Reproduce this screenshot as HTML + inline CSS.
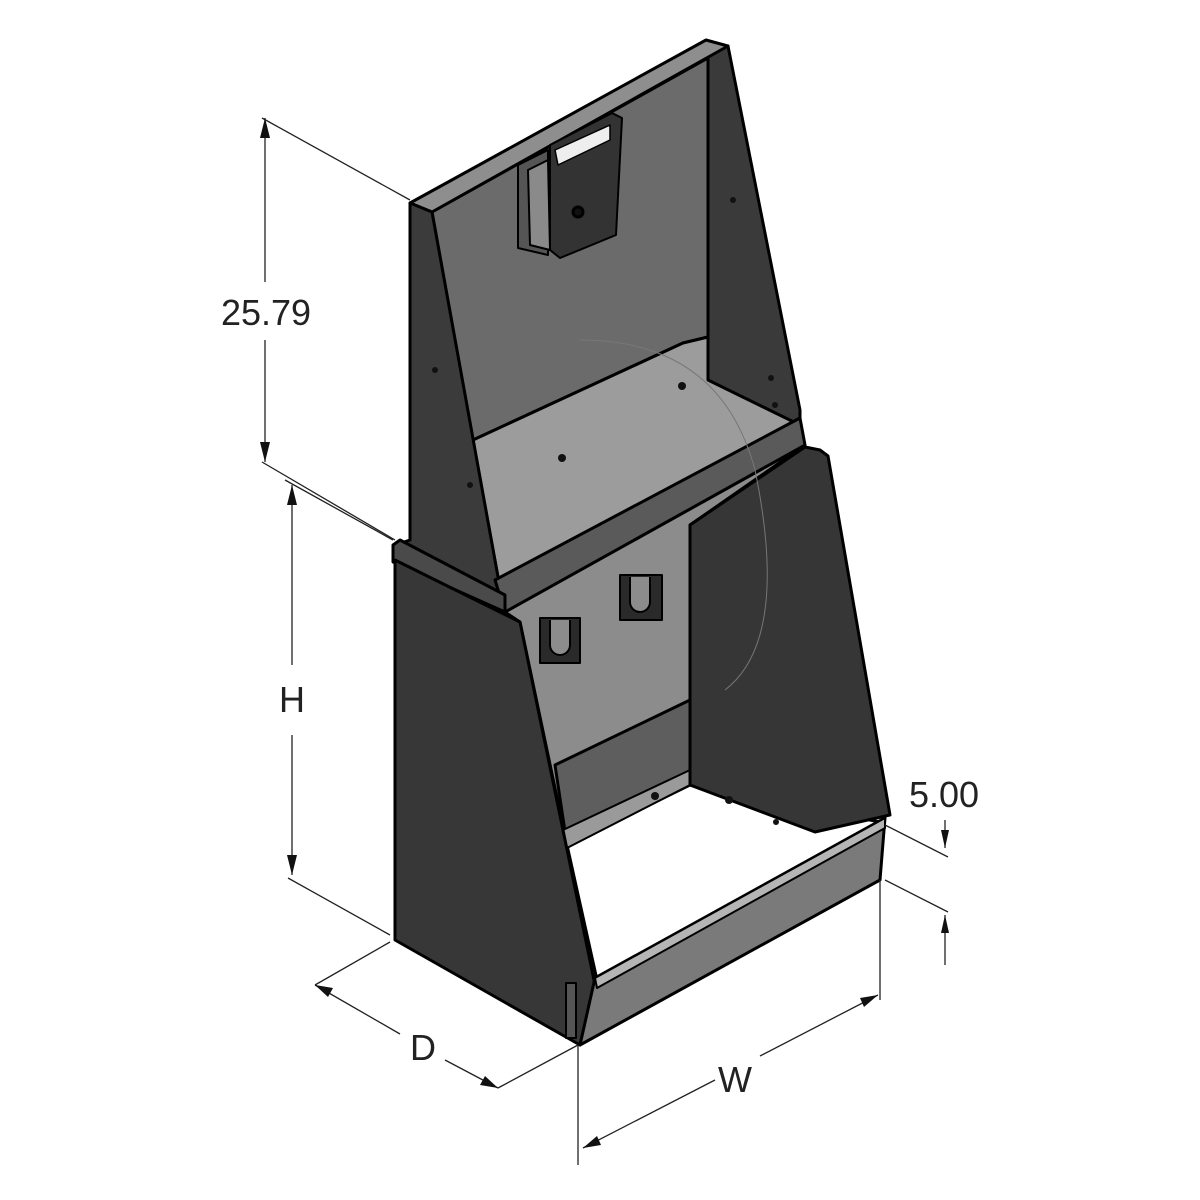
<!DOCTYPE html>
<html><head><meta charset="utf-8"><style>html,body{margin:0;padding:0;background:#fff}svg{display:block}</style></head>
<body>
<svg width="1200" height="1200" viewBox="0 0 1200 1200" xmlns="http://www.w3.org/2000/svg" font-family="Liberation Sans, sans-serif">
<g stroke="#000" stroke-width="3" stroke-linejoin="round">
<!-- upper back panel -->
<polygon points="432,212 708,58 708,337 683,343 473,440" fill="#6b6b6b"/>
<!-- upper shelf -->
<polygon points="473,440 683,343 708,337 800,418 500,588" fill="#9c9c9c"/>
<!-- upper right panel -->
<polygon points="708,50 728,46 800,410 800,425 708,380" fill="#3a3a3a"/>
<!-- top rail -->
<polygon points="410,203 706,40 728,46 432,212" fill="#8e8e8e"/>
<!-- upper left panel -->
<polygon points="410,203 432,212 500,588 500,600 395,545 410,540" fill="#3b3b3b"/>
<!-- lower back panel -->
<polygon points="505,612 805,445 690,525 690,785 567,845 520,622" fill="#8c8c8c"/>
<polygon points="555,765 690,700 690,785 567,845" fill="#5e5e5e"/>
<!-- floor opening -->
<polygon points="567,845 690,785 880,822 597,980" fill="#fff"/>
<polygon points="563,830 690,770 690,785 567,848" fill="#9a9a9a" stroke-width="2"/>
<!-- lower right panel -->
<polygon points="690,525 805,447 820,450 828,456 890,815 815,832 690,785" fill="#363636"/>
<!-- shelf front rail -->
<polygon points="495,580 800,418 805,445 505,612" fill="#5a5a5a"/>
<!-- lower top rim -->
<polygon points="393,545 400,540 505,595 505,612 393,562" fill="#4a4a4a"/>
<!-- lower left panel -->
<polygon points="395,560 520,622 595,985 580,1045 395,940" fill="#373737"/>
<!-- lip -->
<polygon points="595,978 885,818 880,880 580,1045" fill="#7a7a7a"/>
<polygon points="595,978 885,818 885,828 597,988" fill="#b5b5b5" stroke-width="2"/>
<rect x="566" y="983" width="10" height="55" fill="#555" stroke-width="2"/>
<!-- hooks -->
<path d="M540 618 h40 v45 h-40 z M550 620 v25 a8 8 0 0 0 20 0 v-25" fill="#2a2a2a" stroke-width="2"/>
<path d="M620 575 h42 v45 h-42 z M630 577 v25 a8 8 0 0 0 20 0 v-25" fill="#2a2a2a" stroke-width="2"/>
<!-- bracket -->
<polygon points="518,165 548,150 548,255 518,248" fill="#555" stroke-width="2"/>
<polygon points="528,170 548,160 550,250 530,245" fill="#8a8a8a" stroke-width="2"/>
<polygon points="550,145 612,113 622,118 616,235 560,258 550,250" fill="#333" stroke-width="2"/>
<polygon points="555,150 610,125 610,140 558,165" fill="#eee" stroke-width="1.5"/>
<circle cx="578" cy="212" r="5" fill="#111"/>
</g>
<!-- screws -->
<g fill="#111">
<circle cx="435" cy="370" r="3"/><circle cx="733" cy="200" r="3"/><circle cx="771" cy="378" r="3"/>
<circle cx="562" cy="458" r="4"/><circle cx="682" cy="386" r="4"/><circle cx="775" cy="405" r="3"/>
<circle cx="470" cy="485" r="3"/><circle cx="655" cy="796" r="4"/><circle cx="729" cy="800" r="4"/><circle cx="776" cy="822" r="3"/>
</g>
<!-- arc -->
<path d="M580 340 Q 720 340 755 470 Q 790 640 725 690" fill="none" stroke="#777" stroke-width="1"/>
<!-- dimensions -->
<g stroke="#222" stroke-width="1.3" fill="none">
<line x1="262" y1="118" x2="410" y2="200"/>
<line x1="262" y1="462" x2="395" y2="540"/>
<line x1="265" y1="118" x2="265" y2="282"/><line x1="265" y1="340" x2="265" y2="462"/>
<line x1="285" y1="480" x2="393" y2="540"/>
<line x1="292" y1="485" x2="292" y2="665"/><line x1="292" y1="735" x2="292" y2="875"/>
<line x1="288" y1="878" x2="390" y2="935"/>
<line x1="315" y1="985" x2="390" y2="942"/>
<line x1="315" y1="985" x2="400" y2="1034"/><line x1="445" y1="1060" x2="498" y2="1088"/>
<line x1="498" y1="1088" x2="578" y2="1045"/>
<line x1="578" y1="1045" x2="578" y2="1165"/>
<line x1="880" y1="880" x2="880" y2="1000"/>
<line x1="583" y1="1148" x2="715" y2="1080"/><line x1="760" y1="1056" x2="878" y2="995"/>
<line x1="885" y1="825" x2="948" y2="857"/><line x1="885" y1="880" x2="948" y2="912"/>
<line x1="945" y1="820" x2="945" y2="848"/><line x1="945" y1="915" x2="945" y2="965"/>
</g>
<g fill="#111">
<polygon points="265,118 260,138 270,138"/><polygon points="265,462 260,442 270,442"/>
<polygon points="292,485 287,505 297,505"/><polygon points="292,875 287,855 297,855"/>
<polygon points="315,985 333,988 328,997"/><polygon points="498,1088 480,1085 485,1076"/>
<polygon points="583,1148 597,1136 601,1145"/><polygon points="878,995 864,1007 860,998"/>
<polygon points="945,848 941,830 949,830"/><polygon points="945,915 941,933 949,933"/>
</g>
<g font-size="36" fill="#222" text-anchor="middle">
<text x="266" y="325">25.79</text>
<text x="292" y="712">H</text>
<text x="423" y="1060">D</text>
<text x="735" y="1092">W</text>
<text x="944" y="807">5.00</text>
</g>
</svg>
</body></html>
